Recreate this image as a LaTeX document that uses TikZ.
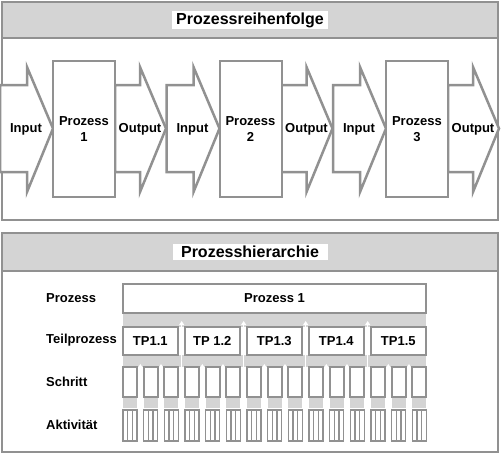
\documentclass[tikz,border=0pt]{standalone}
\usepackage{fontspec}
\setmainfont{Liberation Sans}
\usetikzlibrary{arrows.meta}
\definecolor{linegray}{RGB}{145,145,145}
\definecolor{fillgray}{RGB}{212,212,212}
\begin{document}
\begin{tikzpicture}
	[x=1pt,y=-1pt,
	panel/.style={draw=linegray,line width=2pt},
	head/.style={draw=linegray,fill=fillgray,line width=2pt},
	title/.style={fill=white,inner xsep=4pt,inner ysep=2pt,minimum width=155pt,font=\bfseries\fontsize{16}{18}\selectfont},
	lbl/.style={inner sep=1pt,align=center,font=\bfseries\fontsize{13}{16}\selectfont},
	flow/.style={draw=linegray,fill=white,line width=2.5pt,line join=miter},
	box/.style={draw=linegray,fill=white,line width=2pt,inner sep=0pt},
	bar/.style={draw=linegray,fill=white,line width=1.6pt},
	up/.style={draw=white,line width=1.5pt,-{Triangle[width=5pt,length=4pt]}}]
	\useasboundingbox (0,0) rectangle (502,453);
	% Prozessreihenfolge
	\draw[panel] (2,2) rectangle (498,220);
	\draw[head] (2,2) rectangle (498,38);
	\node[title] (seqtitle) at (250,20) {Prozessreihenfolge};
	\foreach \k/\o in {1/0,2/166.5,3/333}{
		\draw[flow] (\o,85) -- ++(27,0) -- ++(0,-18) -- ++(26,61.5) -- ++(-26,63.5) -- ++(0,-20) -- ++(-27,0) -- cycle;
		\draw[flow] (\o+115,85) -- ++(25,0) -- ++(0,-18) -- ++(26,61.5) -- ++(-26,63.5) -- ++(0,-20) -- ++(-25,0) -- cycle;
		\node[lbl] (in\k) at (\o+26,129) {Input};
		\node[box,lbl,minimum width=62pt,minimum height=136pt] (p\k) at (\o+84,129) {Prozess\\\k};
		\node[lbl] (out\k) at (\o+140,129) {Output};
	}
	% Prozesshierarchie
	\draw[panel] (2,233) rectangle (498,452);
	\draw[head] (2,233) rectangle (498,271);
	\node[title] (hiertitle) at (250,252) {Prozesshierarchie};
	\node[lbl,anchor=west] (lproz) at (45,298) {Prozess};
	\node[lbl,anchor=west] (lteil) at (45,340) {Teilprozess};
	\node[lbl,anchor=west] (lschritt) at (45,382) {Schritt};
	\node[lbl,anchor=west] (lakt) at (45,425) {Aktivität};
	\fill[fillgray] (123,313) rectangle (426,327);
	\fill[fillgray] (123,355) rectangle (426,367);
	\foreach \j in {1,...,14}{
		\pgfmathsetmacro\ux{123+62/3*\j-3.33}
		\pgfmathsetmacro\uy{mod(\j,3)==0 ? 321 : 364}
		\coordinate (a\j) at (\ux,442);
		\coordinate (b\j) at (\ux,\uy);
		\draw[up] (a\j) -- (b\j);
	}
	\node[box,lbl,minimum width=303pt,minimum height=29pt] (proz) at (274.5,298.5) {Prozess 1};
	\foreach \i/\t in {0/TP1.1,1/TP 1.2,2/TP1.3,3/TP1.4,4/TP1.5}
		\node[box,lbl,minimum width=54.5pt,minimum height=28pt] (tp\i) at (150.25+62*\i,341) {\t};
	\foreach \j in {0,...,14}{
		\pgfmathsetmacro\sx{123+62/3*\j}
		\node[box,minimum width=14pt,minimum height=30pt] (s\j) at (\sx+7,382) {};
		\fill[fillgray] (\sx,398) rectangle ++(14,10);
		\foreach \b in {0,1,2}
			\draw[bar] (\sx+14/3*\b,410) rectangle ++(14/3,31);
	}
\end{tikzpicture}
\end{document}
